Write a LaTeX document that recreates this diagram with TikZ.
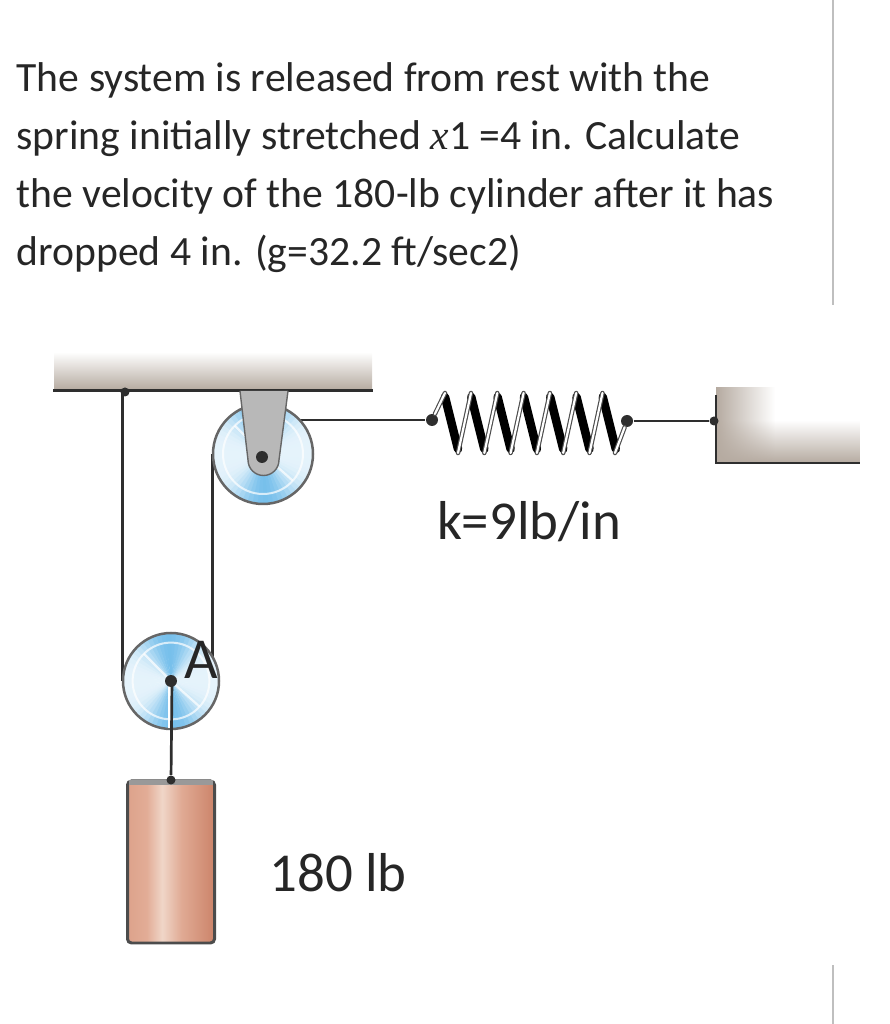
\documentclass[tikz,border=0pt]{standalone}
\usepackage{fontspec}
\setmainfont{Carlito}
\newfontfamily\varfont{Liberation Serif}
\usetikzlibrary{backgrounds,calc,fadings,positioning}

\definecolor{wallgray}{HTML}{B5AAA0}
\definecolor{ropegray}{HTML}{2E2E2E}
\definecolor{discblue}{HTML}{6DBBEA}
\pgfdeclarehorizontalshading{copperbands}{100bp}{
	color(0bp)=(rgb,255:red,208;green,140;blue,115);
	color(36bp)=(rgb,255:red,226;green,172;blue,150);
	color(45bp)=(rgb,255:red,240;green,214;blue,200);
	color(56bp)=(rgb,255:red,224;green,170;blue,148);
	color(75bp)=(rgb,255:red,204;green,132;blue,106);
	color(90bp)=(rgb,255:red,216;green,156;blue,132);
	color(100bp)=(rgb,255:red,216;green,156;blue,132)
}

\tikzset{
	rope/.style={ropegray, line width=0.027cm},
	knob/.style={circle, fill=ropegray, inner sep=0pt, minimum size=0.09cm},
	pulley/.style={circle, inner sep=0pt, minimum size=#1},
	label text/.style={text=black!85, inner sep=0pt, font=\fontsize{15.6}{18}\selectfont},
}

% conic look of a disc, blue at top and bottom
\newcommand{\pulleydisc}[2]{
	\foreach \a in {0,6,...,354} {
		\pgfmathsetmacro{\m}{18+75*cos(\a-90)^4}
		\fill[discblue!\m!white] (#1.center) -- ++(\a:#2) arc (\a:\a+7:#2) -- cycle;
	}
	\draw[white, line width=0.02cm, opacity=.7] (#1.center) circle (#2*0.8);
	\draw[white, line width=0.022cm, opacity=.7] (#1.center) -- ++(135:#2*0.8);
	\draw[white, line width=0.022cm, opacity=.7] (#1.center) -- ++(-42:#2*0.8);
	\draw[black!60, line width=0.025cm] (#1.center) circle (#2);
}

\begin{document}
\begin{tikzpicture}
	\useasboundingbox (0,0) rectangle (8.9,10.24);
	
	\draw[black!25, line width=0.015cm] (8.33,10.24) -- (8.33,7.19);
	\draw[black!25, line width=0.015cm] (8.33,0.59) -- (8.33,0);
	
	\node (question) at (0.16,9.62) [anchor=north west, inner sep=0pt, align=left, text=black!85, font=\fontsize{11.85}{16.5}\selectfont] {The system is released from rest with the\\ spring initially stretched {\varfont\itshape x}1 =4 in. Calculate\\ the velocity of the 180-lb cylinder after it has\\ dropped 4 in. (g=32.2 ft/sec2)};
	
	% supports
	\node (ceiling) at (2.13,6.53) [minimum width=3.18cm, minimum height=0.38cm, inner sep=0pt, top color=white, bottom color=wallgray] {};
	\draw[ropegray, line width=0.025cm] (ceiling.south west) -- (ceiling.south east);
	
	\fill[wallgray, path fading=east] (7.16,5.61) rectangle (7.75,6.37);
	\fill[wallgray, path fading=north] (7.16,5.61) rectangle (8.6,6.04);
	\coordinate (wallcorner) at (7.16,5.61);
	\draw[ropegray, line width=0.025cm] (7.16,6.29) -- (wallcorner) -- (8.6,5.61);
	
	% pulleys
	\node[pulley=1cm] (pulleyO) at (2.63,5.70) {};
	\node[pulley=0.96cm] (pulleyA) at (1.71,3.43) {};
	\pulleydisc{pulleyO}{0.5cm}
	\pulleydisc{pulleyA}{0.48cm}
	
	\node (cylinder) at (1.71,1.62) [draw=black!70, line width=0.03cm, rounded corners=0.04cm, minimum width=0.87cm, minimum height=1.62cm, inner sep=0pt, shade, shading=copperbands] {};
	\draw[black!40, line width=0.05cm] ($(cylinder.north west)+(0.03,-0.03)$) -- ($(cylinder.north east)+(-0.03,-0.03)$);
	
	% ropes
	\node[knob] (ceilingknob) at (1.25,6.32) {};
	\node[knob] (cylinderknob) at (1.71,2.44) {};
	\node[knob, minimum size=0.12cm] (springL) at (4.32,6.04) {};
	\node[knob, minimum size=0.12cm] (springR) at (6.27,6.03) {};
	\node[knob] (wallknob) at (7.14,6.03) {};
	
	\begin{scope}[on background layer]
		\draw[rope] (pulleyA.west |- ceiling.south) -- (pulleyA.west);
		\draw[rope] (pulleyO.west) -- (pulleyO.west |- pulleyA.center);
		\draw[rope] (pulleyO.center |- springL) -- (springL);
	\end{scope}
	\draw[white, line width=0.03cm] (pulleyA.center) ++(-0.02,0) -- ++(0,-0.47);
	\draw[rope] (pulleyA.center) ++(0.01,0) -- (cylinderknob);
	\draw[rope] (springR) -- (wallknob);
	
	% hanger of the upper pulley
	\fill[black!28] (2.40,6.33) -- (2.88,6.33) -- (2.79,5.64) arc (0:-180:0.155) -- cycle;
	\draw[black!60, line width=0.014cm] (2.40,6.33) -- (2.48,5.64) arc (180:360:0.155) -- (2.88,6.33);
	\node[knob, minimum size=0.12cm] (axleO) at (2.62,5.67) {};
	\node[knob, minimum size=0.12cm] (axleA) at (pulleyA.center) {};
	
	% spring
	\foreach \i in {0,...,6} {
		\draw[black, line width=0.085cm, line cap=round] (4.45+0.263*\i,6.27) -- (4.58+0.263*\i,5.75);
	}
	\foreach \i in {0,...,5} {
		\draw[black!70, line width=0.045cm, line cap=round] (4.58+0.263*\i,5.71) -- (4.71+0.263*\i,6.31);
		\draw[white, line width=0.022cm, line cap=round] (4.58+0.263*\i,5.71) -- (4.71+0.263*\i,6.31);
	}
	\draw[black!70, line width=0.045cm, line cap=round] (springL) -- (4.45,6.31);
	\draw[white, line width=0.022cm, line cap=round] (springL) -- (4.45,6.31);
	\draw[black!70, line width=0.045cm, line cap=round] (6.15,5.71) -- (springR);
	\draw[white, line width=0.022cm, line cap=round] (6.15,5.71) -- (springR);
	
	% labels
	\node (springlabel) at (5.29,5.02) [label text] {k=9lb/in};
	\node (weightlabel) at (3.38,1.51) [label text] {180 lb};
	\node (pointA) at (2.01,3.64) [label text, font=\fontsize{16.5}{18}\selectfont] {A};
\end{tikzpicture}
\end{document}
